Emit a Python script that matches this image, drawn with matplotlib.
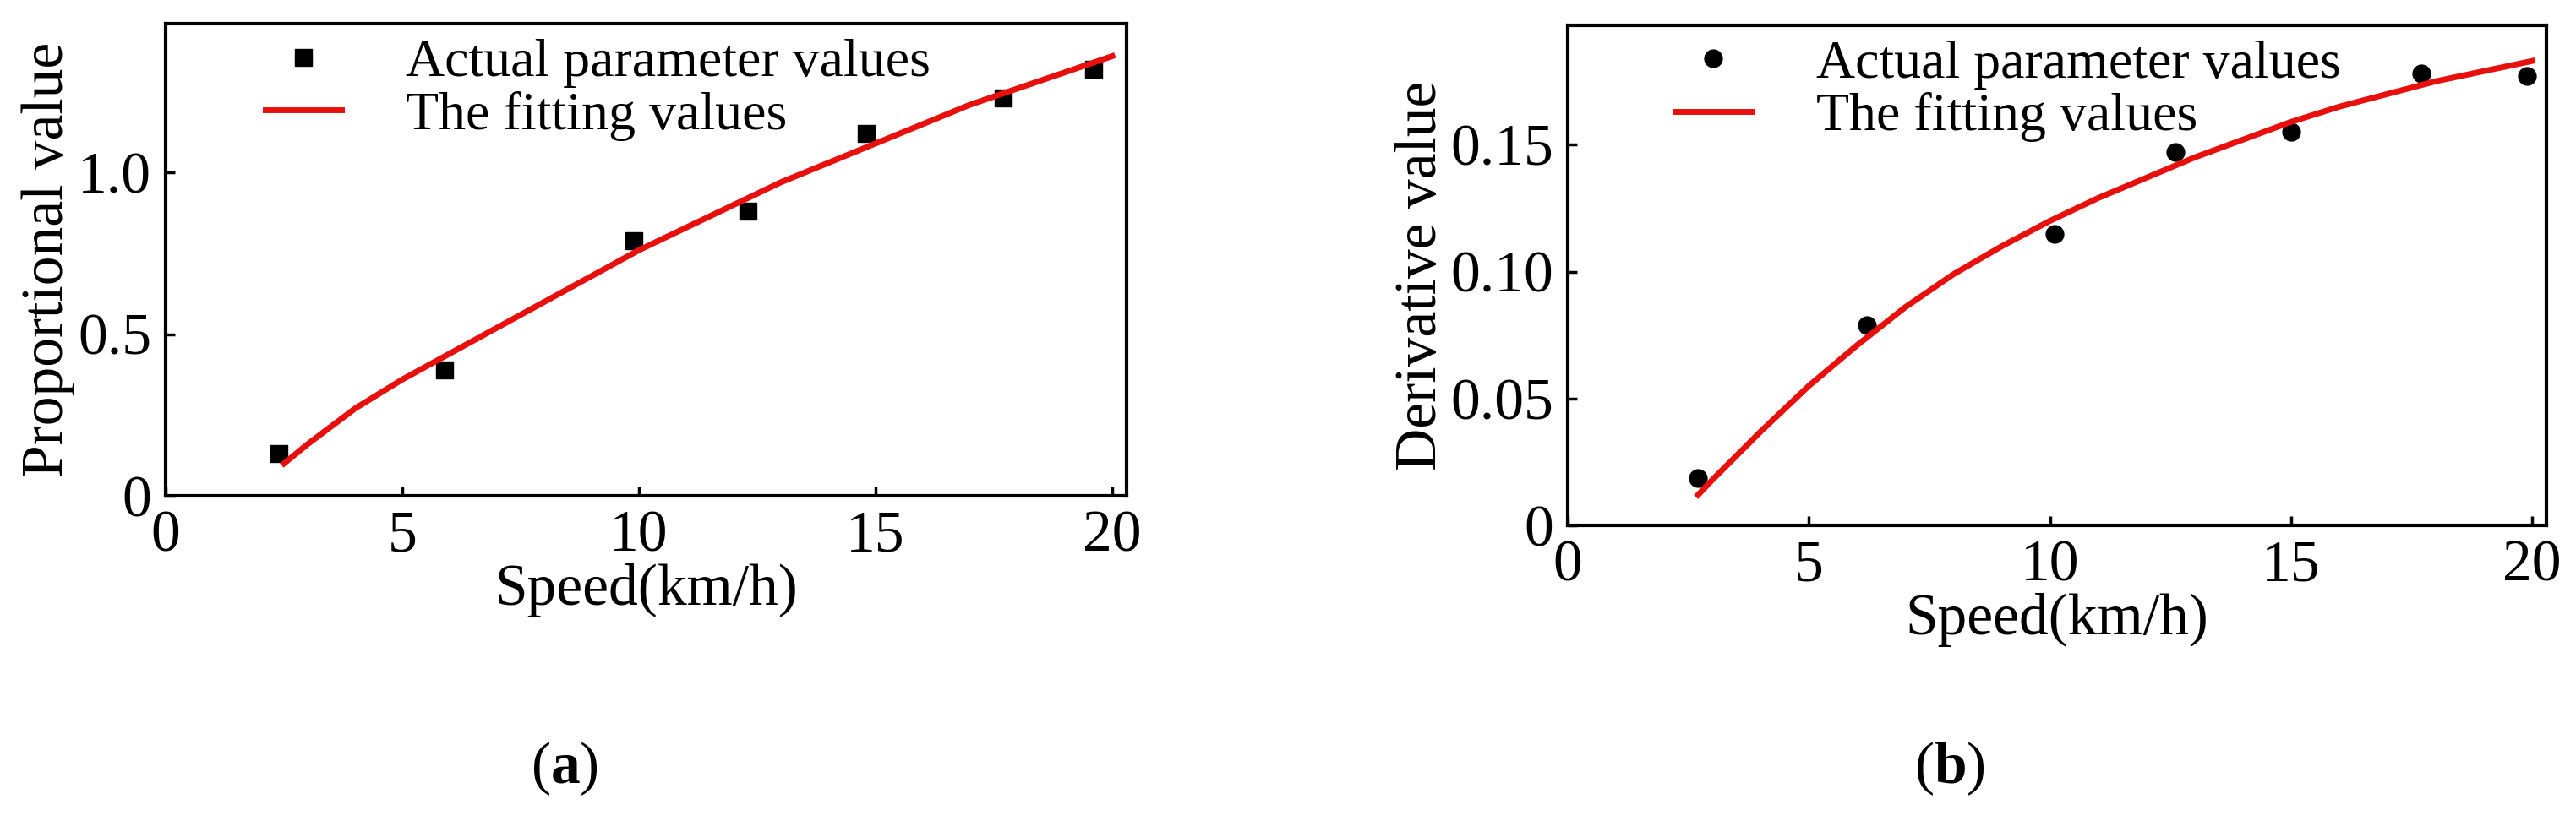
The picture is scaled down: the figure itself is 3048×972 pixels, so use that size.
import numpy as np
import matplotlib
matplotlib.use("Agg")
import matplotlib.pyplot as plt

plt.rcParams['font.family'] = ['Liberation Serif', 'DejaVu Serif']
plt.rcParams['mathtext.fontset'] = 'custom'
plt.rcParams['mathtext.rm'] = 'Liberation Serif'
plt.rcParams['mathtext.bf'] = 'Liberation Serif:bold'

# (a) proportional parameter
speed_a = [2.4, 5.9, 9.9, 12.3, 14.8, 17.7, 19.6]
prop_actual = [0.13, 0.39, 0.79, 0.88, 1.12, 1.23, 1.32]
fit_speed_a = [2.5, 3, 4, 5, 6, 7, 8, 9, 10, 11, 12, 13, 14, 15, 16, 17, 18, 19, 20]
prop_fit = [0.10, 0.16, 0.27, 0.36, 0.44, 0.52, 0.60, 0.68, 0.76, 0.83, 0.90,
            0.97, 1.03, 1.09, 1.15, 1.21, 1.26, 1.31, 1.36]

# (b) derivative parameter
speed_b = [2.7, 6.2, 10.1, 12.6, 15.0, 17.7, 19.9]
deriv_actual = [0.0185, 0.079, 0.115, 0.147, 0.155, 0.178, 0.177]
fit_speed_b = [2.7, 3, 4, 5, 6, 7, 8, 9, 10, 11, 12, 13, 14, 15, 16, 17, 18, 19, 20]
deriv_fit = [0.012, 0.018, 0.037, 0.055, 0.071, 0.086, 0.099, 0.110, 0.120, 0.129,
             0.137, 0.145, 0.152, 0.159, 0.165, 0.170, 0.175, 0.179, 0.183]

fs = 50
fig = plt.figure(figsize=(30.48, 9.72), dpi=100)
ax1 = fig.add_axes([0.0643, 0.396, 0.373, 0.575])
ax2 = fig.add_axes([0.6086, 0.36, 0.380, 0.609])

def style(ax, yt, ytl, ylim, ylabel):
    ax.set_xlim(0, 20.3)
    ax.set_ylim(*ylim)
    ax.set_xticks([0, 5, 10, 15, 20])
    ax.set_xticklabels(['0', '5', '10', '15', '20'])
    ax.set_yticks(yt)
    ax.set_yticklabels(ytl)
    ax.tick_params(direction='in', length=8, width=2.5, labelsize=fs, pad=12)
    for s in ax.spines.values():
        s.set_linewidth(3)
    ax.set_xlabel('Speed(km/h)', fontsize=fs, labelpad=0)
    ax.set_ylabel(ylabel, fontsize=fs, labelpad=2)
    ax.legend(loc='upper center', frameon=False, fontsize=46, handlelength=1.4,
              borderaxespad=0.05, labelspacing=0.05, handletextpad=1.2,
              bbox_to_anchor=(0.45, 1.02))

ax1.plot(speed_a, prop_actual, 's', color='black', ms=14, label='Actual parameter values')
ax1.plot(fit_speed_a, prop_fit, '-', color='#e8100c', lw=5, label='The fitting values')
style(ax1, [0, 0.5, 1.0], ['0', '0.5', '1.0'], (0, 1.46), 'Proportional value')

ax2.plot(speed_b, deriv_actual, 'o', color='black', ms=15, label='Actual parameter values')
ax2.plot(fit_speed_b, deriv_fit, '-', color='#e8100c', lw=5, label='The fitting values')
style(ax2, [0, 0.05, 0.10, 0.15], ['0', '0.05', '0.10', '0.15'], (0, 0.197), 'Derivative value')

fig.text(0.219, 0.064, r'($\mathbf{a}$)', fontsize=50, ha='center', va='center')
fig.text(0.757, 0.064, r'($\mathbf{b}$)', fontsize=50, ha='center', va='center')

fig.savefig('out.png', dpi=100)
